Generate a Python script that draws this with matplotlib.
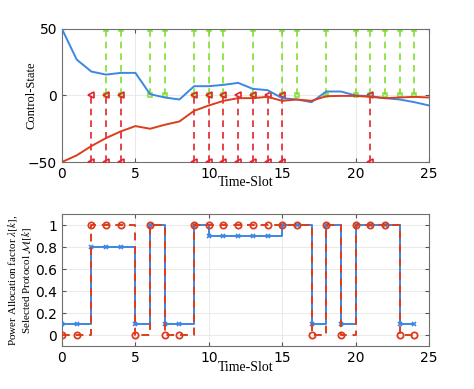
import matplotlib
matplotlib.use('Agg')
import matplotlib.pyplot as plt

plt.rcParams['mathtext.fontset'] = 'stix'

# 上图：控制状态
k_top = list(range(26))
state_blue = [50, 27, 18, 15.7, 17, 17, 1, -1.5, -3, 7, 7, 8, 9.5, 5, 4, -2, -3, -5,
              3, 3, 0, -0.5, -2, -3, -5, -7.5]
state_red = [-50, -45, -38, -32, -27, -23, -25, -22, -19.5, -11.5, -7.5, -4, -2, -2, -1,
             -4, -3, -4, -0.5, -0.3, -0.3, -1, -2, -1.5, -1, -1.5]
green_slots = [3, 4, 6, 7, 9, 10, 11, 13, 15, 16, 18, 20, 21, 22, 23, 24]
red_slots = [2, 3, 4, 9, 10, 11, 12, 13, 14, 15, 21]

# 下图：功率分配因子与所选协议
k_bot = list(range(25))
power_alloc = [0.1, 0.1, 0.8, 0.8, 0.8, 0.1, 1, 0.1, 0.1, 1, 0.9, 0.9, 0.9, 0.9, 0.9,
               1, 1, 0.1, 1, 0.1, 1, 1, 1, 0.1, 0.1]
protocol = [0, 0, 1, 1, 1, 0, 1, 0, 0, 1, 1, 1, 1, 1, 1, 1, 1, 0, 1, 0, 1, 1, 1, 0, 0]

c_blue = '#3b87e3'
c_red = '#dc3d1e'
c_stem_red = '#e3242b'
c_green = '#80e030'
serif = 'Liberation Serif'

fig = plt.figure(figsize=(4.74, 3.89), dpi=100)
ax1 = fig.add_axes([0.1308, 0.5835, 0.7743, 0.342])
ax2 = fig.add_axes([0.1308, 0.1093, 0.7743, 0.3406])

# 绿色竖线（0 到 50）
for k in green_slots:
    ax1.plot([k, k], [0, 50], ls=(0, (4, 3)), color=c_green, lw=1.2,
             marker='s', ms=3.5, mfc='none', mew=1.1, zorder=2)
# 红色竖线（-50 到 0）
for k in red_slots:
    ax1.plot([k, k], [-50, 0], ls=(0, (4, 3)), color=c_stem_red, lw=1.2,
             marker='<', ms=4.5, mfc='none', mew=1.2, zorder=3)
ax1.plot(k_top, state_blue, color=c_blue, lw=1.4, zorder=4)
ax1.plot(k_top, state_red, color=c_red, lw=1.4, zorder=4)

ax1.set_xlim(0, 25)
ax1.set_ylim(-50, 50)
ax1.set_yticks([-50, 0, 50])
ax1.set_xticks([0, 5, 10, 15, 20, 25])
ax1.set_ylabel('Control-State', family=serif, fontsize=9)
ax1.set_xlabel('Time-Slot', family=serif, fontsize=10)
ax1.yaxis.set_label_coords(-0.068, 0.5)
ax1.xaxis.set_label_coords(0.5, -0.105)

ax2.step(k_bot, power_alloc, where='post', color=c_blue, lw=1.4, zorder=3)
ax2.plot(k_bot, power_alloc, ls='none', marker='x', ms=3.5, mew=1.2, color=c_blue, zorder=3)
ax2.step(k_bot, protocol, where='post', color=c_red, lw=1.4, ls=(0, (4, 3)), zorder=4)
ax2.plot(k_bot, protocol, ls='none', marker='o', ms=4.5, mfc='none', mew=1.3,
         color=c_red, zorder=4)

ax2.set_xlim(0, 25)
ax2.set_ylim(-0.1, 1.1)
ax2.set_yticks([0, 0.2, 0.4, 0.6, 0.8, 1])
ax2.set_yticklabels(['0', '0.2', '0.4', '0.6', '0.8', '1'])
ax2.set_xticks([0, 5, 10, 15, 20, 25])
ax2.set_ylabel('Power Allocation factor $\\lambda[k]$,\nSelected Protocol $\\mathcal{M}[k]$',
               family=serif, fontsize=8, linespacing=1.15)
ax2.set_xlabel('Time-Slot', family=serif, fontsize=10)
ax2.yaxis.set_label_coords(-0.075, 0.5)
ax2.xaxis.set_label_coords(0.5, -0.11)

for ax in (ax1, ax2):
    ax.grid(True, color='#e6e6e6', lw=0.6)
    ax.set_axisbelow(True)
    ax.tick_params(direction='in', length=3, labelsize=10, color='#555555',
                   top=True, right=True)
    for s in ax.spines.values():
        s.set_color('#707070')
        s.set_linewidth(0.8)

fig.savefig('out.png', dpi=100)
